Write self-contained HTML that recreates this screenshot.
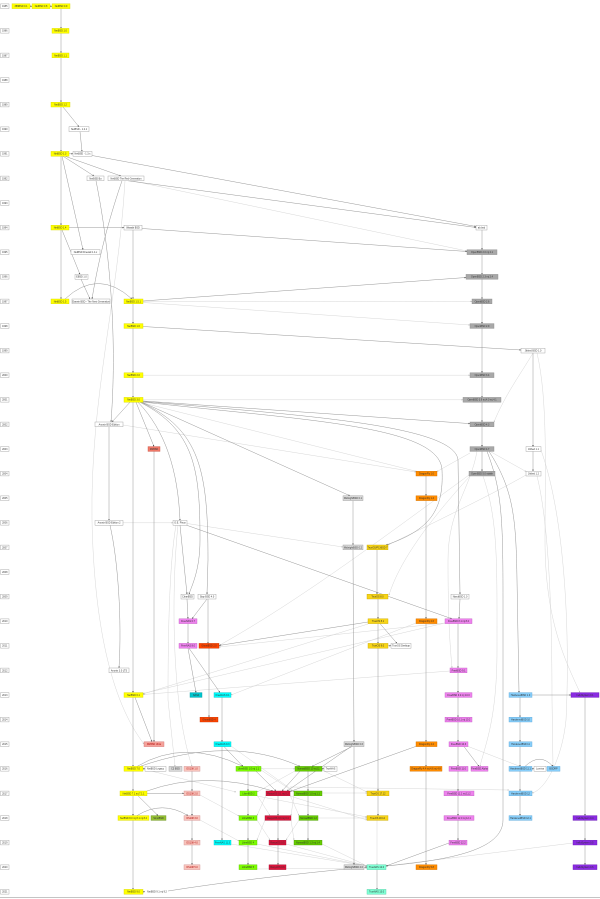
<!DOCTYPE html>
<html><head><meta charset="utf-8"><style>
html,body{margin:0;padding:0;background:#fff;}
svg{display:block;}
text{font-family:"Liberation Sans",sans-serif;font-size:2.4px;text-anchor:middle;fill:#333;}
rect{stroke-width:0.4;}
.w{fill:#fff;stroke:#9a9a9a}
.y{fill:#ffff00;stroke:#d6d600}
.g{fill:#f7d417;stroke:#c9a800}
.o{fill:#ff8c00;stroke:#d07000}
.or{fill:#ff4500;stroke:#c03000}
.gr{fill:#a8a8a8;stroke:#8a8a8a}
.lg{fill:#d8d8d8;stroke:#9a9a9a}
.v{fill:#ee82ee;stroke:#c060c0}
.c{fill:#00ffff;stroke:#00c0c0}
.dt{fill:#00c5cd;stroke:#009aa0}
.lb{fill:#87cefa;stroke:#5fa8d8}
.p{fill:#8a2be2;stroke:#6a1bb2}
.lgn{fill:#7cfc00;stroke:#5ec000}
.dgn{fill:#66cd00;stroke:#4a9a00}
.cr{fill:#dc143c;stroke:#a01030}
.sal{fill:#f4a29a;stroke:#d07070}
.salr{fill:#f07868;stroke:#c85040}
.ls{fill:#f8c4bc;stroke:#d09090}
.ol{fill:#94c032;stroke:#6a9020}
.m{fill:#7fffd4;stroke:#50c8a0}
.e path,path.e{fill:none;stroke:#8c8c8c;stroke-width:0.45;}
.l path{fill:none;stroke:#d2d2d2;stroke-width:0.45;}
.rt{fill:#b00000}
</style></head><body>
<svg width="600" height="899" viewBox="0 0 600 899" xmlns="http://www.w3.org/2000/svg">
<defs>
<marker id="a" viewBox="0 0 4 4" refX="4" refY="2" markerWidth="1.6" markerHeight="1.6" markerUnits="userSpaceOnUse" orient="auto"><path d="M0,0 L4,2 L0,4 z" fill="#444"/></marker>
<marker id="b" viewBox="0 0 4 4" refX="4" refY="2" markerWidth="1.4" markerHeight="1.4" markerUnits="userSpaceOnUse" orient="auto"><path d="M0,0 L4,2 L0,4 z" fill="#aaa"/></marker>
</defs>
<rect x="0" y="0" width="600" height="899" fill="#fff"/>
<line x1="0" y1="897.5" x2="600" y2="897.5" stroke="#c4c4c4" stroke-width="1"/>

<!-- light edges -->
<g class="l" marker-end="url(#b)">
<path d="M132,180.8 L467,251"/>
<path d="M125,180.8 C118,300 90,400 92,520 C94,620 110,700 144,744"/>
<path d="M143,302.5 L470,325"/>
<path d="M143,301.8 L472,301.4"/>
<path d="M143,375.2 L470,375.2"/>
<path d="M143,399.8 L463,399.8"/>
<path d="M533,353 C520,375 505,395 494,422"/>
<path d="M537,353 C548,400 545,470 545,540 C545,620 565,660 580,692.6"/>
<path d="M143,403 L417,471.5"/>
<path d="M123,425 L416,472"/>
<path d="M123,522.8 L173,522.8"/>
<path d="M187,523.5 L343,547"/>
<path d="M176,525.2 C170,560 168,620 168,700 L175,766.4"/>
<path d="M178,525.2 C172,580 170,700 192,766.4"/>
<path d="M377,820.4 L377,864.8"/>
<path d="M467,746 L520,766.4"/>
<path d="M477,451.4 C470,490 448,510 448,560 C448,620 450,645 452,668"/>
<path d="M483,476 C498,520 497,560 497,650 C497,720 485,745 480,766.4"/>
<path d="M490,451.4 L526,471.5"/>
<path d="M470,453 L437,471.5"/>
<path d="M526,475 C500,490 450,515 388,545"/>
<path d="M537,476 C548,520 552,600 552,700 L553,766.4"/>
<path d="M541,450 C566,520 570,640 566,720 C562,760 545,790 532,793"/>
<path d="M470,476 C430,520 400,560 389,595"/>
<path d="M469,475 C380,540 300,600 220,645"/>
<path d="M445,623 L143,693.5"/>
<path d="M368,624 L143,694"/>
<path d="M450,671 L143,694.5"/>
<path d="M257,795 L270,815.6"/>
<path d="M266,795 L257,815.6"/>
<path d="M290,795 L299,815.6"/>
<path d="M294,795 L291,815.6"/>
<path d="M257,820 L270,840"/>
<path d="M265,820 L257,840"/>
<path d="M291,820 L294,840"/>
<path d="M299,820 L286,840"/>
<path d="M257,844 L367,866"/>
<path d="M286,844 L367,866"/>
<path d="M322,844 L367,866"/>
<path d="M231,844 L367,866"/>
<path d="M257,869 L367,868"/>
<path d="M322,793 L367,793"/>
<path d="M318,818 L367,818"/>
<path d="M261,768.8 L295,768.8"/>
<path d="M261,770 L294,792"/>
<path d="M295,771 L257,792"/>
<path d="M290,787 L509,790"/>
<path d="M322,770 L367,792"/>
<path d="M257,796 L367,817"/>
<path d="M231,746 L295,792"/>
<path d="M290,796 L367,820"/>
<path d="M573,843 L386,866"/>
<path d="M200,795 L239,816"/>
<path d="M200,820 L239,841"/>
<path d="M143,769 L236,792"/>
<path d="M445,623 L219,647"/>
<path d="M416,623 L231,695"/>
</g>

<!-- main edges -->
<g class="e" marker-end="url(#a)">
<path d="M30,6.2 L32,6.2"/><path d="M50,6.2 L52,6.2"/>
<path d="M61,8.6 L61,28.4"/><path d="M61,33.2 L61,53"/><path d="M61,57.8 L61,102.2"/><path d="M61,107 L61,151.4"/><path d="M61,156.2 L61,225.2"/><path d="M61,230 L61,299"/>
<path d="M63,107 L79,126.8"/>
<path d="M80,131.6 L82,151.4"/>
<path d="M69,153.8 L73,153.8"/>
<path d="M63,156.2 L94,176"/>
<path d="M65,156.2 L121,176"/>
<path d="M62,156.2 L83,249.8"/>
<path d="M92,155.5 L476,226.5"/>
<path d="M128,180.8 L476,227.5"/>
<path d="M96,180.8 C108,240 118,330 111,422"/>
<path d="M122,180.8 C112,210 100,250 92,299"/>
<path d="M69,227.6 L124,227.6"/>
<path d="M133,230 L133,299"/>
<path d="M142,228.5 L467,251.5"/>
<path d="M62,230 L80,274.4"/>
<path d="M81,279.2 L90,299"/>
<path d="M65,299 Q98,268 132,299"/>
<path d="M143,301 L466,277.5"/>
<path d="M133,303.8 L133,323.6"/><path d="M133,328.4 L133,372.8"/><path d="M133,377.6 L133,397.4"/>
<path d="M143,326.5 L521,350"/>
<path d="M482,230 L482,249.8"/><path d="M482,254.6 L482,274.4"/><path d="M482,279.2 L482,299"/><path d="M482,303.8 L482,323.6"/><path d="M482,328.4 L482,372.8"/><path d="M482,377.6 L482,397.4"/><path d="M482,402.2 L482,422"/><path d="M482,426.8 L482,446.6"/><path d="M482,451.4 L482,471.2"/>
<path d="M533,353 L533,446.6"/><path d="M533,451.4 L533,471.2"/>
<path d="M130,402.2 L112,422"/>
<path d="M136,402.2 L154,446.6"/>
<path d="M133,402.2 L133,692.6"/>
<path d="M138,402.2 C165,430 178,470 180,520.4"/>
<path d="M140,402.2 C195,430 200,470 200,540 C200,570 192,585 189,594.2"/>
<path d="M141,402.2 C200,430 208,470 208,560 L207,594.2"/>
<path d="M142,402.2 L350,495.8"/>
<path d="M143,401 L470,423.6"/>
<path d="M143,402 C300,420 440,425 442,470 C444,510 430,530 386,545"/>
<path d="M143,401.5 C300,415 455,425 458,460 L460,594.2"/>
<path d="M154,451.4 L154,741.8"/>
<path d="M109,426.8 L109,520.4"/>
<path d="M110,525.2 C118,560 122,620 119,668"/>
<path d="M180,525.2 L187,594.2"/>
<path d="M186,525 L452,618.8"/>
<path d="M353,500.6 L353,545"/>
<path d="M353,549.8 L354,741.8"/><path d="M354,746.6 L354,864.8"/>
<path d="M377,549.8 L377,594.2"/><path d="M378,599 L378,618.8"/><path d="M378,623.6 L378,643.4"/><path d="M378,648.2 L378,791"/><path d="M378,795.8 L378,815.6"/>
<path d="M388,645.8 L391,645.8"/>
<path d="M380,623.6 L397,643.4"/>
<path d="M368,622 L219,645.5"/>
<path d="M187,599 L188,618.8"/>
<path d="M207,599 L192,618.8"/>
<path d="M208,599 L208,643.4"/>
<path d="M460,599 L459,618.8"/>
<path d="M188,623.6 L188,643.4"/>
<path d="M188,648.2 L196,692.6"/>
<path d="M189,648.2 L220,692.6"/>
<path d="M209,648.2 L209,717.2"/>
<path d="M222,697.4 L222,741.8"/><path d="M222,746.6 L222,840.2"/>
<path d="M135,697.4 L152,741.8"/>
<path d="M133,697.4 L133,766.4"/><path d="M133,771.2 L133,791"/><path d="M133,795.8 L133,815.6"/><path d="M133,820.4 L133,889.4"/>
<path d="M143,768.8 L145,768.8"/>
<path d="M137,766.4 Q185,738 243,766.4"/>
<path d="M140,766.4 Q230,735 300,766.4"/>
<path d="M147,793.4 L184,793.4"/>
<path d="M138,795.8 L158,815.6"/>
<path d="M147,791 Q205,770 273,791"/>
<path d="M137,815.6 Q162,800 188,815.6"/>
<path d="M192,771.2 L192,791"/><path d="M192,795.8 L192,815.6"/><path d="M192,820.4 L192,840.2"/><path d="M192,845 L192,864.8"/>
<path d="M248,771.2 L248,791"/><path d="M248,795.8 L248,815.6"/><path d="M248,820.4 L248,840.2"/><path d="M248,845 L248,864.8"/>
<path d="M278,795.8 L278,815.6"/><path d="M278,820.4 L278,840.2"/><path d="M278,845 L278,864.8"/>
<path d="M308,771.2 L308,791"/><path d="M308,795.8 L308,815.6"/><path d="M308,820.4 L308,840.2"/>
<path d="M322,768.8 L324,768.8"/>
<path d="M224,746.6 L243,766.4"/>
<path d="M352,746.6 L312,766.4"/>
<path d="M351,746.6 L287,791"/>
<path d="M256,771.2 L276,791"/>
<path d="M300,771.2 L282,791"/>
<path d="M426,476 L426,495.8"/><path d="M426,500.6 L426,618.8"/><path d="M426,623.6 L426,741.8"/><path d="M426,746.6 L426,766.4"/><path d="M426,771.2 L426,864.8"/>
<path d="M417,746 L290,791.5"/>
<path d="M458,623.6 L458,668"/><path d="M458,672.8 L458,692.6"/><path d="M458,697.4 L458,717.2"/><path d="M458,722 L458,741.8"/><path d="M458,746.6 L458,766.4"/><path d="M458,771.2 L458,791"/><path d="M458,795.8 L458,815.6"/><path d="M458,820.4 L458,840.2"/>
<path d="M464,746.6 L479,766.4"/>
<path d="M449,843 L386,866"/>
<path d="M520,697.4 L520,717.2"/><path d="M520,722 L520,741.8"/><path d="M520,746.6 L520,766.4"/><path d="M520,771.2 L520,791"/><path d="M520,795.8 L520,815.6"/>
<path d="M489,451.4 C514,490 516,520 517,580 L519,692.6"/>
<path d="M487,451.4 C502,490 503,520 503,600 L503,820 C503,850 450,860 386,866"/>
<path d="M532,695 L571,695"/>
<path d="M532,768.8 L534,768.8"/>
<path d="M525,766.4 Q540,752 553,766.4"/>
<path d="M585,697.4 L585,815.6"/><path d="M585,820.4 L585,840.2"/><path d="M585,845 L585,864.8"/>
<path d="M377,869.6 L377,889.4"/>
<path d="M143,891.8 L145,891.8"/>
<path d="M168,891 Q250,878 367,867"/>
</g>

<!-- nodes -->
<g transform="translate(0,6.2)"><rect class="w" x="0.5" y="-2.3" width="8.5" height="4.6"/><text x="4.75" y="0.85">1985</text>
<rect class="y" x="12" y="-2.4" width="18" height="4.8"/><text x="21" y="0.85">386BSD 0.1</text>
<rect class="y" x="32" y="-2.4" width="18" height="4.8"/><text x="41" y="0.85">NetBSD 0.8</text>
<rect class="y" x="52" y="-2.4" width="18" height="4.8"/><text x="61" y="0.85">NetBSD 0.9</text></g>

<g transform="translate(0,30.8)"><rect class="w" x="0.5" y="-2.3" width="8.5" height="4.6"/><text x="4.75" y="0.85">1986</text>
<rect class="y" x="52" y="-2.4" width="17" height="4.8"/><text x="60.5" y="0.85">NetBSD 1.0</text></g>

<g transform="translate(0,55.4)"><rect class="w" x="0.5" y="-2.3" width="8.5" height="4.6"/><text x="4.75" y="0.85">1987</text>
<rect class="y" x="52" y="-2.4" width="17" height="4.8"/><text x="60.5" y="0.85">NetBSD 1.1</text></g>

<g transform="translate(0,80)"><rect class="w" x="0.5" y="-2.3" width="8.5" height="4.6"/><text x="4.75" y="0.85">1988</text></g>

<g transform="translate(0,104.6)"><rect class="w" x="0.5" y="-2.3" width="8.5" height="4.6"/><text x="4.75" y="0.85">1989</text>
<rect class="y" x="51" y="-2.4" width="19" height="4.8"/><text x="60.5" y="0.85">NetBSD 1.2</text></g>

<g transform="translate(0,129.2)"><rect class="w" x="0.5" y="-2.3" width="8.5" height="4.6"/><text x="4.75" y="0.85">1990</text>
<rect class="w" x="69" y="-2.4" width="20" height="4.8"/><text x="79" y="0.85">NetBSD - 1.2.1</text></g>

<g transform="translate(0,153.8)"><rect class="w" x="0.5" y="-2.3" width="8.5" height="4.6"/><text x="4.75" y="0.85">1991</text>
<rect class="y" x="51" y="-2.4" width="18" height="4.8"/><text x="60" y="0.85">NetBSD 1.3</text>
<rect class="w" x="73" y="-2.4" width="19" height="4.8"/><text x="82.5" y="0.85">NetBSD - 1.3.x</text></g>

<g transform="translate(0,178.4)"><rect class="w" x="0.5" y="-2.3" width="8.5" height="4.6"/><text x="4.75" y="0.85">1992</text>
<rect class="w" x="87" y="-2.4" width="17" height="4.8"/><text x="95.5" y="0.85">NetBSD Bo</text>
<rect class="w" x="108" y="-2.4" width="36" height="4.8"/><text x="126" y="0.85">NetBSD The Red Generation</text></g>

<g transform="translate(0,203)"><rect class="w" x="0.5" y="-2.3" width="8.5" height="4.6"/><text x="4.75" y="0.85">1993</text></g>

<g transform="translate(0,227.6)"><rect class="w" x="0.5" y="-2.3" width="8.5" height="4.6"/><text x="4.75" y="0.85">1994</text>
<rect class="y" x="51" y="-2.4" width="18" height="4.8"/><text x="60" y="0.85">NetBSD 1.4</text>
<rect class="w" x="124" y="-2.4" width="18" height="4.8"/><text x="133" y="0.85">Wasabi BSD</text>
<rect class="w" x="476" y="-2.4" width="11" height="4.8"/><text x="481.5" y="0.85">ab.bsd</text></g>

<g transform="translate(0,252.2)"><rect class="w" x="0.5" y="-2.3" width="8.5" height="4.6"/><text x="4.75" y="0.85">1995</text>
<rect class="w" x="71" y="-2.4" width="29" height="4.8"/><text x="85.5" y="0.85">NetBSD Firewall 1.4.x</text>
<rect class="gr" x="467" y="-2.4" width="30" height="4.8"/><text x="482" y="0.85">OpenBSD 2.0 mj 2.1</text></g>

<g transform="translate(0,276.8)"><rect class="w" x="0.5" y="-2.3" width="8.5" height="4.6"/><text x="4.75" y="0.85">1996</text>
<rect class="w" x="75" y="-2.4" width="13" height="4.8"/><text x="81.5" y="0.85">EBSD 1.0</text>
<rect class="gr" x="466" y="-2.4" width="32" height="4.8"/><text x="482" y="0.85">OpenBSD 2.3 mj 2.4</text></g>

<g transform="translate(0,301.4)"><rect class="w" x="0.5" y="-2.3" width="8.5" height="4.6"/><text x="4.75" y="0.85">1997</text>
<rect class="y" x="51" y="-2.4" width="18" height="4.8"/><text x="60" y="0.85">NetBSD 1.5</text>
<rect class="w" x="72" y="-2.4" width="38" height="4.8"/><text x="91" y="0.85">Darwin BSD - The Next Generation</text>
<rect class="y" x="124" y="-2.4" width="19" height="4.8"/><text x="133.5" y="0.85">NetBSD 1.5.1</text>
<rect class="gr" x="472" y="-2.4" width="20" height="4.8"/><text x="482" y="0.85">OpenBSD 2.6</text></g>

<g transform="translate(0,326)"><rect class="w" x="0.5" y="-2.3" width="8.5" height="4.6"/><text x="4.75" y="0.85">1998</text>
<rect class="y" x="124" y="-2.4" width="19" height="4.8"/><text x="133.5" y="0.85">NetBSD 1.6</text>
<rect class="gr" x="470" y="-2.4" width="24" height="4.8"/><text x="482" y="0.85">OpenBSD 2.9</text></g>

<g transform="translate(0,350.6)"><rect class="w" x="0.5" y="-2.3" width="8.5" height="4.6"/><text x="4.75" y="0.85">1999</text>
<rect class="w" x="521" y="-2.4" width="24" height="4.8"/><text x="533" y="0.85">Jibbed BSD 1.0</text></g>

<g transform="translate(0,375.2)"><rect class="w" x="0.5" y="-2.3" width="8.5" height="4.6"/><text x="4.75" y="0.85">2000</text>
<rect class="y" x="124" y="-2.4" width="19" height="4.8"/><text x="133.5" y="0.85">NetBSD 2.0</text>
<rect class="gr" x="470" y="-2.4" width="24" height="4.8"/><text x="482" y="0.85">OpenBSD 3.4</text></g>

<g transform="translate(0,399.8)"><rect class="w" x="0.5" y="-2.3" width="8.5" height="4.6"/><text x="4.75" y="0.85">2001</text>
<rect class="y" x="124" y="-2.4" width="19" height="4.8"/><text x="133.5" y="0.85">NetBSD 3.0</text>
<rect class="gr" x="463" y="-2.4" width="38" height="4.8"/><text x="482" y="0.85">OpenBSD 3.9 mj 4.0 mj 4.1</text></g>

<g transform="translate(0,424.4)"><rect class="w" x="0.5" y="-2.3" width="8.5" height="4.6"/><text x="4.75" y="0.85">2002</text>
<rect class="w" x="95" y="-2.4" width="28" height="4.8"/><text x="109" y="0.85">Anonix BSD Edition</text>
<rect class="gr" x="470" y="-2.4" width="24" height="4.8"/><text x="482" y="0.85">OpenBSD 4.3</text></g>

<g transform="translate(0,449)"><rect class="w" x="0.5" y="-2.3" width="8.5" height="4.6"/><text x="4.75" y="0.85">2003</text>
<rect class="salr" x="148" y="-2.4" width="12" height="4.8"/><text x="154" y="0.85" fill="#fff">MirBSD</text>
<rect class="gr" x="470" y="-2.4" width="24" height="4.8"/><text x="482" y="0.85">OpenBSD 4.7</text>
<rect class="w" x="526" y="-2.4" width="15" height="4.8"/><text x="533.5" y="0.85">Jibbed 1.1</text></g>

<g transform="translate(0,473.6)"><rect class="w" x="0.5" y="-2.3" width="8.5" height="4.6"/><text x="4.75" y="0.85">2004</text>
<rect class="o" x="416" y="-2.4" width="21" height="4.8"/><text x="426.5" y="0.85">DragonFly 1.0</text>
<rect class="gr" x="469" y="-2.4" width="26" height="4.8"/><text x="482" y="0.85">OpenBSD 5.0 stable</text>
<rect class="w" x="526" y="-2.4" width="15" height="4.8"/><text x="533.5" y="0.85">Jibbed 1.2</text></g>

<g transform="translate(0,498.2)"><rect class="w" x="0.5" y="-2.3" width="8.5" height="4.6"/><text x="4.75" y="0.85">2005</text>
<rect class="lg" x="343" y="-2.4" width="20" height="4.8"/><text x="353" y="0.85">MidnightBSD 0.1</text>
<rect class="o" x="416" y="-2.4" width="21" height="4.8"/><text x="426.5" y="0.85">DragonFly 1.4</text></g>

<g transform="translate(0,522.8)"><rect class="w" x="0.5" y="-2.3" width="8.5" height="4.6"/><text x="4.75" y="0.85">2006</text>
<rect class="w" x="95" y="-2.4" width="28" height="4.8"/><text x="109" y="0.85">Anonix BSD Edition 2</text>
<rect class="w" x="173" y="-2.4" width="14" height="4.8"/><text x="180" y="0.85">G.E. Pinux</text></g>

<g transform="translate(0,547.4)"><rect class="w" x="0.5" y="-2.3" width="8.5" height="4.6"/><text x="4.75" y="0.85">2007</text>
<rect class="lg" x="343" y="-2.4" width="20" height="4.8"/><text x="353" y="0.85">MidnightBSD 0.2</text>
<rect class="g" x="367" y="-2.4" width="21" height="4.8"/><text x="377.5" y="0.85">TrueOS/PC-BSD 7</text></g>

<g transform="translate(0,572)"><rect class="w" x="0.5" y="-2.3" width="8.5" height="4.6"/><text x="4.75" y="0.85">2008</text></g>

<g transform="translate(0,596.6)"><rect class="w" x="0.5" y="-2.3" width="8.5" height="4.6"/><text x="4.75" y="0.85">2009</text>
<rect class="w" x="181" y="-2.4" width="13" height="4.8"/><text x="187.5" y="0.85">ClearBSD</text>
<rect class="w" x="198" y="-2.4" width="18" height="4.8"/><text x="207" y="0.85">Stay BSD 4.0</text>
<rect class="g" x="367" y="-2.4" width="21" height="4.8"/><text x="377.5" y="0.85">TrueOS 8.0</text>
<rect class="w" x="451" y="-2.4" width="18" height="4.8"/><text x="460" y="0.85">NanoBSD 1.0</text></g>

<g transform="translate(0,621.2)"><rect class="w" x="0.5" y="-2.3" width="8.5" height="4.6"/><text x="4.75" y="0.85">2010</text>
<rect class="v" x="179" y="-2.4" width="18" height="4.8"/><text x="188" y="0.85">FreeNAS 0.7</text>
<rect class="g" x="368" y="-2.4" width="20" height="4.8"/><text x="378" y="0.85">TrueOS 8.1</text>
<rect class="o" x="416" y="-2.4" width="21" height="4.8"/><text x="426.5" y="0.85">DragonFly 2.6</text>
<rect class="v" x="445" y="-2.4" width="27" height="4.8"/><text x="458.5" y="0.85">FreeBSD 8.1 mj 8.2</text></g>

<g transform="translate(0,645.8)"><rect class="w" x="0.5" y="-2.3" width="8.5" height="4.6"/><text x="4.75" y="0.85">2011</text>
<rect class="v" x="179" y="-2.4" width="18" height="4.8"/><text x="188" y="0.85">FreeNAS 8.0</text>
<rect class="or" x="199" y="-2.4" width="20" height="4.8"/><text x="209" y="0.85">GhostBSD 2.0</text>
<rect class="g" x="368" y="-2.4" width="20" height="4.8"/><text x="378" y="0.85">TrueOS 9.0</text>
<rect class="w" x="391" y="-2.4" width="20" height="4.8"/><text x="401" y="0.85">TrueOS Desktop</text></g>

<g transform="translate(0,670.4)"><rect class="w" x="0.5" y="-2.3" width="8.5" height="4.6"/><text x="4.75" y="0.85">2012</text>
<rect class="w" x="109" y="-2.4" width="20" height="4.8"/><text x="119" y="0.85">Anonix 3.0 LTS</text>
<rect class="v" x="450" y="-2.4" width="17" height="4.8"/><text x="458.5" y="0.85">FreeBSD 9.1</text></g>

<g transform="translate(0,695)"><rect class="w" x="0.5" y="-2.3" width="8.5" height="4.6"/><text x="4.75" y="0.85">2013</text>
<rect class="y" x="124" y="-2.4" width="19" height="4.8"/><text x="133.5" y="0.85">NetBSD 6.1</text>
<rect class="dt" x="190" y="-2.4" width="12" height="4.8"/><text x="196" y="0.85">NAS4</text>
<rect class="c" x="214" y="-2.4" width="17" height="4.8"/><text x="222.5" y="0.85">FreeNAS 9.1</text>
<rect class="v" x="445" y="-2.4" width="27" height="4.8"/><text x="458.5" y="0.85">FreeBSD 9.2 mj 10.0</text>
<rect class="lb" x="509" y="-2.4" width="23" height="4.8"/><text x="520.5" y="0.85">HardenedBSD 1.0</text>
<rect class="p" x="571" y="-2.4" width="28" height="4.8"/><text x="585" y="0.85" fill="#fff">helloSystem 0.1</text></g>

<g transform="translate(0,719.6)"><rect class="w" x="0.5" y="-2.3" width="8.5" height="4.6"/><text x="4.75" y="0.85">2014</text>
<rect class="or" x="200" y="-2.4" width="18" height="4.8"/><text x="209" y="0.85">GhostBSD 4</text>
<rect class="v" x="445" y="-2.4" width="27" height="4.8"/><text x="458.5" y="0.85">FreeBSD 10.1 mj 10.2</text>
<rect class="lb" x="509" y="-2.4" width="23" height="4.8"/><text x="520.5" y="0.85">HardenedBSD 10</text></g>

<g transform="translate(0,744.2)"><rect class="w" x="0.5" y="-2.3" width="8.5" height="4.6"/><text x="4.75" y="0.85">2015</text>
<rect class="sal" x="144" y="-2.4" width="20" height="4.8"/><text x="154" y="0.85" class="rt">MirBSD Ultra</text>
<rect class="c" x="214" y="-2.4" width="17" height="4.8"/><text x="222.5" y="0.85">FreeNAS 9.3</text>
<rect class="lg" x="344" y="-2.4" width="20" height="4.8"/><text x="354" y="0.85">MidnightBSD 0.6</text>
<rect class="o" x="416" y="-2.4" width="21" height="4.8"/><text x="426.5" y="0.85">DragonFly 4.2</text>
<rect class="v" x="449" y="-2.4" width="19" height="4.8"/><text x="458.5" y="0.85">FreeBSD 10.3</text>
<rect class="lb" x="509" y="-2.4" width="23" height="4.8"/><text x="520.5" y="0.85">HardenedBSD 11</text></g>

<g transform="translate(0,768.8)"><rect class="w" x="0.5" y="-2.3" width="8.5" height="4.6"/><text x="4.75" y="0.85">2016</text>
<rect class="y" x="124" y="-2.4" width="19" height="4.8"/><text x="133.5" y="0.85">NetBSD 7.0</text>
<rect class="w" x="145" y="-2.4" width="21" height="4.8"/><text x="155.5" y="0.85">NetBSD Legacy</text>
<rect class="lg" x="169" y="-2.4" width="13" height="4.8"/><text x="175.5" y="0.85">C3 BSD</text>
<rect class="ls" x="184" y="-2.4" width="16" height="4.8"/><text x="192" y="0.85" class="rt">OS108 1.0</text>
<rect class="lgn" x="236" y="-2.4" width="25" height="4.8"/><text x="248.5" y="0.85">LibreBSD 1.0 mj 1.1</text>
<rect class="dgn" x="295" y="-2.4" width="27" height="4.8"/><text x="308.5" y="0.85">NomadBSD 10 mj 11</text>
<rect class="w" x="324" y="-2.4" width="13" height="4.8"/><text x="330.5" y="0.85">TrueNAS</text>
<rect class="o" x="410" y="-2.4" width="32" height="4.8"/><text x="426" y="0.85">DragonFly 4.4 mj 4.6 mj 4.8</text>
<rect class="v" x="449" y="-2.4" width="19" height="4.8"/><text x="458.5" y="0.85">FreeBSD 11.0</text>
<rect class="v" x="471" y="-2.4" width="17" height="4.8"/><text x="479.5" y="0.85">FreeBSD Alpha</text>
<rect class="lb" x="509" y="-2.4" width="23" height="4.8"/><text x="520.5" y="0.85">HardenedBSD 11.1</text>
<rect class="w" x="534" y="-2.4" width="12" height="4.8"/><text x="540" y="0.85">Lumina</text>
<rect class="lb" x="547" y="-2.4" width="13" height="4.8"/><text x="553.5" y="0.85">BSDRP</text></g>

<g transform="translate(0,793.4)"><rect class="w" x="0.5" y="-2.3" width="8.5" height="4.6"/><text x="4.75" y="0.85">2017</text>
<rect class="y" x="120" y="-2.4" width="27" height="4.8"/><text x="133.5" y="0.85">NetBSD 7.1 mj 7.1.1</text>
<rect class="ls" x="184" y="-2.4" width="16" height="4.8"/><text x="192" y="0.85" class="rt">OS108 2.0</text>
<rect class="lgn" x="240" y="-2.4" width="17" height="4.8"/><text x="248.5" y="0.85">LibreBSD 2</text>
<rect class="cr" x="266" y="-2.4" width="24" height="4.8"/><text x="278" y="0.85" fill="#fff">RavynOS 0.1 mj 0.2</text>
<rect class="dgn" x="294" y="-2.4" width="28" height="4.8"/><text x="308" y="0.85">NomadBSD 1.0 mj 1.1</text>
<rect class="g" x="367" y="-2.4" width="22" height="4.8"/><text x="378" y="0.85">TrueOS 17.12</text>
<rect class="v" x="444" y="-2.4" width="30" height="4.8"/><text x="459" y="0.85">FreeBSD 11.1 mj 11.2</text>
<rect class="lb" x="509" y="-2.4" width="23" height="4.8"/><text x="520.5" y="0.85">HardenedBSD 12</text></g>

<g transform="translate(0,818)"><rect class="w" x="0.5" y="-2.3" width="8.5" height="4.6"/><text x="4.75" y="0.85">2018</text>
<rect class="y" x="118" y="-2.4" width="31" height="4.8"/><text x="133.5" y="0.85">NetBSD 8.0 mj 8.1 mj 8.2</text>
<rect class="ol" x="151" y="-2.4" width="15" height="4.8"/><text x="158.5" y="0.85">SmolBSD</text>
<rect class="ls" x="184" y="-2.4" width="16" height="4.8"/><text x="192" y="0.85" class="rt">OS108 3.0</text>
<rect class="lgn" x="239" y="-2.4" width="18" height="4.8"/><text x="248" y="0.85">LibreBSD 3</text>
<rect class="cr" x="265" y="-2.4" width="26" height="4.8"/><text x="278" y="0.85" fill="#fff">RavynOS 0.3 mj 0.4</text>
<rect class="dgn" x="299" y="-2.4" width="19" height="4.8"/><text x="308.5" y="0.85">NomadBSD 1.2</text>
<rect class="g" x="367" y="-2.4" width="21" height="4.8"/><text x="377.5" y="0.85">TrueOS 18.12</text>
<rect class="v" x="444" y="-2.4" width="30" height="4.8"/><text x="459" y="0.85">FreeBSD 12.0 mj 12.1</text>
<rect class="lb" x="509" y="-2.4" width="23" height="4.8"/><text x="520.5" y="0.85">HardenedBSD 12.1</text>
<rect class="p" x="573" y="-2.4" width="24" height="4.8"/><text x="585" y="0.85" fill="#fff">helloSystem 0.4</text></g>

<g transform="translate(0,842.6)"><rect class="w" x="0.5" y="-2.3" width="8.5" height="4.6"/><text x="4.75" y="0.85">2019</text>
<rect class="ls" x="184" y="-2.4" width="16" height="4.8"/><text x="192" y="0.85" class="rt">OS108 4.0</text>
<rect class="c" x="214" y="-2.4" width="17" height="4.8"/><text x="222.5" y="0.85">FreeNAS 11.3</text>
<rect class="lgn" x="239" y="-2.4" width="18" height="4.8"/><text x="248" y="0.85">LibreBSD 4</text>
<rect class="cr" x="269" y="-2.4" width="17" height="4.8"/><text x="277.5" y="0.85" fill="#fff">RavynOS 0.5</text>
<rect class="dgn" x="294" y="-2.4" width="28" height="4.8"/><text x="308" y="0.85">NomadBSD 1.3 mj 1.4</text>
<rect class="v" x="449" y="-2.4" width="18" height="4.8"/><text x="458" y="0.85">FreeBSD 12.2</text>
<rect class="p" x="573" y="-2.4" width="24" height="4.8"/><text x="585" y="0.85" fill="#fff">helloSystem 0.5</text></g>

<g transform="translate(0,867.2)"><rect class="w" x="0.5" y="-2.3" width="8.5" height="4.6"/><text x="4.75" y="0.85">2020</text>
<rect class="ls" x="184" y="-2.4" width="16" height="4.8"/><text x="192" y="0.85" class="rt">OS108 5.0</text>
<rect class="lgn" x="239" y="-2.4" width="18" height="4.8"/><text x="248" y="0.85">LibreBSD 5</text>
<rect class="cr" x="269" y="-2.4" width="17" height="4.8"/><text x="277.5" y="0.85" fill="#fff">RavynOS 0.6</text>
<rect class="lg" x="344" y="-2.4" width="20" height="4.8"/><text x="354" y="0.85">MidnightBSD 2.0</text>
<rect class="m" x="367" y="-2.4" width="19" height="4.8"/><text x="376.5" y="0.85">TrueNAS 12.0</text>
<rect class="o" x="416" y="-2.4" width="21" height="4.8"/><text x="426.5" y="0.85">DragonFly 5.8</text>
<rect class="p" x="573" y="-2.4" width="24" height="4.8"/><text x="585" y="0.85" fill="#fff">helloSystem 0.6</text></g>

<g transform="translate(0,891.8)"><rect class="w" x="0.5" y="-2.3" width="8.5" height="4.6"/><text x="4.75" y="0.85">2021</text>
<rect class="y" x="124" y="-2.4" width="19" height="4.8"/><text x="133.5" y="0.85">NetBSD 9.0</text>
<text x="157" y="0.85">NetBSD 9.1 mj 9.2</text>
<rect class="m" x="367" y="-2.4" width="19" height="4.8"/><text x="376.5" y="0.85">TrueNAS 13.0</text></g>
</svg>
</body></html>
